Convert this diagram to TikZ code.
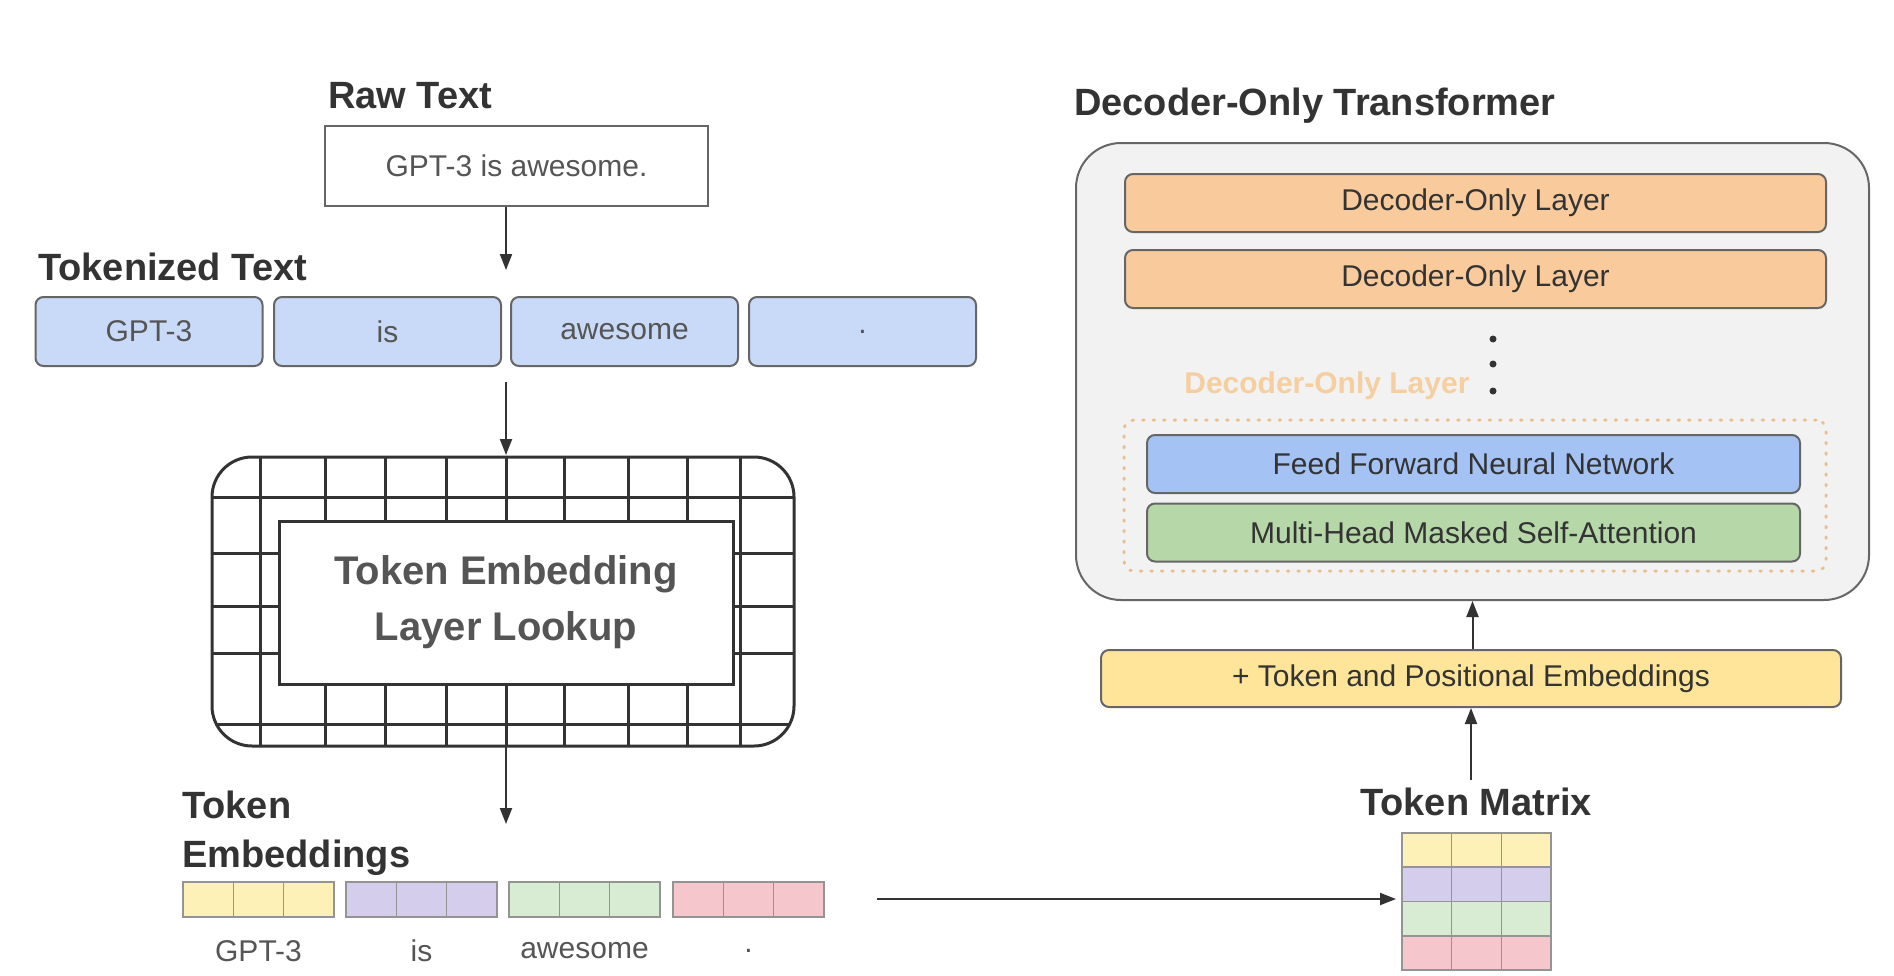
\documentclass[tikz,border=0pt]{standalone}
\usepackage{fontspec}
\setmainfont{Liberation Sans}
\usetikzlibrary{arrows.meta}
\definecolor{txt}{HTML}{555555}
\definecolor{dk}{HTML}{333333}
\definecolor{bd}{HTML}{666666}
\definecolor{tokblue}{HTML}{C9DAF8}
\definecolor{lor}{HTML}{F9CB9C}
\definecolor{lbl}{HTML}{A4C2F4}
\definecolor{lgr}{HTML}{B6D7A8}
\definecolor{lye}{HTML}{FFE599}
\definecolor{cy}{HTML}{FDF1B8}
\definecolor{cp}{HTML}{D5CDEC}
\definecolor{cg}{HTML}{D7ECD3}
\definecolor{cr}{HTML}{F6C6CD}
\definecolor{faded}{HTML}{F5CFA0}
\begin{document}
\begin{tikzpicture}[x=1pt,y=-1pt,
  ttl/.style={font=\fontsize{38}{40}\selectfont\bfseries, text=dk, inner sep=0pt},
  reg/.style={font=\fontsize{30}{34}\selectfont, text=txt},
  tok/.style={draw=bd, line width=2pt, fill=tokblue, rounded corners=8pt, minimum width=227pt, minimum height=69pt, reg},
  layer/.style={draw=bd, line width=2pt, rounded corners=8pt, minimum height=58pt, font=\fontsize{30}{34}\selectfont, text=dk},
  cell/.style={draw=bd!70, line width=1.5pt, minimum width=50pt, minimum height=35pt, inner sep=0pt},
  arr/.style={-{Triangle[length=16pt,width=12pt]}, line width=2pt, draw=dk},
  grid/.style={line width=3pt, draw=dk}]
\useasboundingbox (0,0) rectangle (1894,975);
\fill[white] (0,0) rectangle (1894,975);

% left
\node[ttl, anchor=west] (rawl) at (328,96) {Raw Text};
\node[draw=bd, line width=2pt, minimum width=383pt, minimum height=80pt, reg] (raw) at (516.5,166) {GPT-3 is awesome.};
\node[ttl, anchor=west] (tokl) at (38,267) {Tokenized Text};
\node[tok] (t1) at (149,331.5) {GPT-3};
\node[tok] (t2) at (387.5,331.5) {is};
\node[tok] (t3) at (624.5,331.5) {awesome};
\node[tok] (t4) at (862.5,331.5) {.};
\coordinate (a1) at (506,270);
\draw[arr] (raw.south -| a1) -- (a1);

% grid box
\begin{scope}
\clip[rounded corners=40pt] (212,457) rectangle (794,746);
\foreach \x in {260,325,385,446,506,564,628,687,740} \draw[grid] (\x,440) -- (\x,760);
\foreach \y in {497,553,606,653,724} \draw[grid] (200,\y) -- (800,\y);
\end{scope}
\draw[grid, rounded corners=40pt] (212,457) rectangle (794,746);
\node[draw=dk, line width=3pt, fill=white, minimum width=454pt, minimum height=163pt, align=center,
  font=\fontsize{40}{56}\selectfont\bfseries, text=txt] (emb) at (506,602.5) {Token Embedding\\Layer Lookup};
\coordinate (g1) at (506,382);
\coordinate (g2) at (506,455);
\draw[arr] (g1) -- (g2);
\coordinate (e1) at (506,746);
\coordinate (e2) at (506,824);
\draw[arr] (e1) -- (e2);

\node[ttl, anchor=west] (tel1) at (182,805) {Token};
\node[ttl, anchor=west] (tel2) at (182,858) {Embeddings};
\foreach \gx/\c/\lab/\n in {183/cy/GPT-3/1,346/cp/is/2,509/cg/awesome/3,673/cr/./4}{
  \foreach \i in {0,1,2}{
    \node[cell, fill=\c, minimum width=50.3pt] (c\n\i) at ({\gx+25.2+50.3*\i},899.5) {};
  }
  \node[reg, inner sep=0pt] (lab\n) at ({\gx+75.5},951) {\lab};
}

% right
\node[ttl, anchor=west] (dtl) at (1074,106) {Decoder-Only Transformer};
\node[draw=bd, line width=2pt, fill=black!5, rounded corners=45pt, minimum width=793pt, minimum height=457pt] (outer) at (1472.5,371.5) {};
\node[layer, fill=lor, minimum width=701pt] (l1) at (1475.5,203) {Decoder-Only Layer};
\node[layer, fill=lor, minimum width=701pt] (l2) at (1475.5,279) {Decoder-Only Layer};
\foreach \yy/\n in {339/1,364/2,391/3} \fill[dk] (1493,\yy) circle (3.5pt) coordinate (dot\n);
\node[font=\fontsize{30}{34}\selectfont\bfseries, text=faded, anchor=east] (fl) at (1473,386) {Decoder-Only Layer};
\node[draw=faded!80!brown, line width=3pt, dash pattern=on 1.5pt off 9pt, line cap=round, rounded corners=10pt, minimum width=702pt, minimum height=151pt] (dbox) at (1475,495.5) {};
\node[layer, fill=lbl, minimum width=653pt] (ffn) at (1473.5,464) {Feed Forward Neural Network};
\node[layer, fill=lgr, minimum width=653pt] (mha) at (1473.5,532.5) {Multi-Head Masked Self-Attention};
\node[layer, fill=lye, minimum width=740pt, minimum height=57pt] (pe) at (1471,678.5) {+ Token and Positional Embeddings};
\draw[arr] (pe.north -| outer.south) -- (outer.south);
\node[ttl] (tml) at (1476,802) {Token Matrix};
\foreach \r/\c in {0/cy,1/cp,2/cg,3/cr}{
  \foreach \i in {0,1,2}{
    \node[cell, fill=\c, minimum width=49.7pt, minimum height=34.3pt] (m\r\i) at ({1426.8+49.7*\i},{850+34.3*\r}) {};
  }
}
\draw[arr] (tml.north -| pe.south) ++(0,-8) coordinate (tmt) (tmt) -- (pe.south);
\coordinate (h1) at (877,899);
\coordinate (h2) at (1396,899);
\draw[arr] (h1) -- (h2);
\end{tikzpicture}
\end{document}
